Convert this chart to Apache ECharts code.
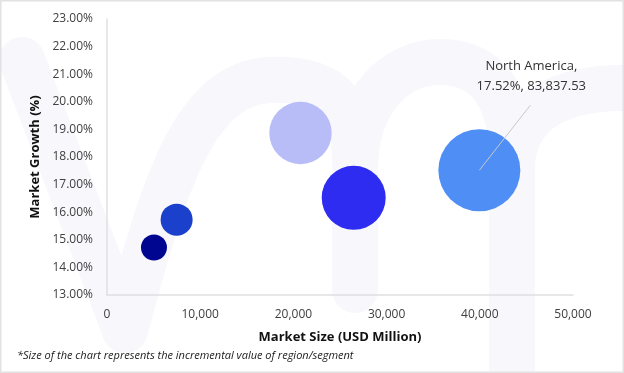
<!DOCTYPE html>
<html>
<head>
<meta charset="utf-8">
<script src="https://cdn.jsdelivr.net/npm/echarts@6/dist/echarts.min.js"></script>
<style>
  html, body { margin: 0; padding: 0; background: #ffffff; }
  #chart { width: 624px; height: 373px; }
</style>
</head>
<body>
<div id="chart"></div>
<script>
// ---- data ----
const regions = ['Segment 1', 'Segment 2', 'Segment 3', 'Segment 4', 'North America'];
const marketSize = [5040, 7470, 20760, 26470, 39950];          // USD Million (x)
const marketGrowth = [14.72, 15.73, 18.87, 16.52, 17.52];      // % (y)
const incrementalValue = [8430, 12770, 48550, 51070, 83837.53]; // bubble size
const bubbleColors = ['#00068f', '#1a40cc', '#b9bdf7', '#2e2cf0', '#4e8ef5'];
const labelledRegions = ['North America'];
const xTicks = { min: 0, max: 50000, interval: 10000 };
const yTicks = { min: 13, max: 23, interval: 1 };

const maxVal = Math.max(...incrementalValue);
const fmtNum = (v, d) => v.toLocaleString('en-US', { minimumFractionDigits: d, maximumFractionDigits: d });

const chart = echarts.init(document.getElementById('chart'), null, { renderer: 'canvas' });

const seriesData = regions.map((r, i) => ({
  name: r,
  value: [marketSize[i], marketGrowth[i], incrementalValue[i]],
  itemStyle: { color: bubbleColors[i], opacity: 1 },
  label: labelledRegions.includes(r) ? {
    show: true,
    position: 'inside',
    offset: [52, -94],
    align: 'center',
    fontFamily: 'Open Sans',
    fontSize: 13,
    lineHeight: 20,
    color: '#333333',
    formatter: (p) => `${p.name},\n${p.value[1].toFixed(2)}%, ${fmtNum(p.value[2], 2)}`
  } : { show: false }
}));

// faint background logo watermark (decorative)
const wmStyle = { stroke: '#f7f7fc', fill: 'none', lineWidth: 46, lineCap: 'round', lineJoin: 'round' };
const wmLine = (x1, y1, x2, y2) => ({ type: 'line', z: -10, silent: true, shape: { x1, y1, x2, y2 }, style: wmStyle });
const wmCurve = (x1, y1, cpx1, cpy1, cpx2, cpy2, x2, y2) => ({
  type: 'bezierCurve', z: -10, silent: true,
  shape: { x1, y1, cpx1, cpy1, cpx2, cpy2, x2, y2 }, style: wmStyle
});
const watermark = [
  wmLine(22, 60, 125, 330),
  wmCurve(125, 330, 160, 200, 190, 85, 268, 80),
  wmCurve(268, 80, 330, 76, 355, 105, 355, 160),
  wmLine(355, 160, 355, 290),
  wmCurve(355, 170, 355, 95, 400, 62, 440, 62),
  wmCurve(440, 62, 490, 62, 512, 100, 512, 160),
  wmLine(512, 160, 512, 400),
  wmCurve(512, 170, 512, 110, 560, 85, 640, 88)
];

const option = {
  backgroundColor: '#ffffff',
  animation: false,
  grid: { left: 107, right: 51, top: 19, bottom: 78 },
  xAxis: {
    type: 'value',
    min: xTicks.min, max: xTicks.max, interval: xTicks.interval,
    name: 'Market Size (USD Million)',
    nameLocation: 'middle',
    nameGap: 36,
    nameTextStyle: { fontFamily: 'Open Sans', fontSize: 13, fontWeight: 'bold', color: '#111111' },
    axisLine: { show: true, lineStyle: { color: '#e0e0e0', width: 1.5 } },
    axisTick: { show: false },
    splitLine: { show: false },
    axisLabel: {
      margin: 14,
      fontFamily: 'Open Sans', fontSize: 12, color: '#404040',
      formatter: (v) => fmtNum(v, 0)
    }
  },
  yAxis: {
    type: 'value',
    min: yTicks.min, max: yTicks.max, interval: yTicks.interval,
    name: 'Market Growth (%)',
    nameLocation: 'middle',
    nameGap: 59,
    nameTextStyle: { fontFamily: 'Open Sans', fontSize: 13, fontWeight: 'bold', color: '#111111' },
    axisLine: { show: true, lineStyle: { color: '#e0e0e0', width: 1.5 } },
    axisTick: { show: false },
    splitLine: { show: false },
    axisLabel: {
      margin: 14,
      fontFamily: 'Open Sans', fontSize: 12, color: '#404040',
      formatter: (v) => v.toFixed(2) + '%'
    }
  },
  series: [{
    type: 'scatter',
    data: seriesData,
    symbolSize: (val) => 82 * Math.sqrt(val[2] / maxVal),
    z: 3
  }],
  graphic: watermark.concat([
    {
      type: 'text', left: 17, top: 350,
      style: {
        text: '*Size of the chart represents the incremental value of region/segment',
        fontFamily: 'Open Sans', fontStyle: 'italic', fontSize: 11, fill: '#1a1a1a'
      }
    },
    {
      type: 'rect', shape: { x: 0.75, y: 0.75, width: 622.5, height: 371.5 },
      style: { fill: 'none', stroke: '#e2e2e2', lineWidth: 1.5 }, silent: true
    }
  ])
};
chart.setOption(option);

// leader line from the labelled bubble's centre to its label
const leaders = [];
regions.forEach((r, i) => {
  if (!labelledRegions.includes(r)) return;
  const p = chart.convertToPixel({ seriesIndex: 0 }, [marketSize[i], marketGrowth[i]]);
  leaders.push({
    type: 'line', z: 10, silent: true,
    shape: { x1: p[0], y1: p[1], x2: p[0] + 51, y2: p[1] - 65 },
    style: { stroke: '#c8c8d0', lineWidth: 1 }
  });
});
chart.setOption({ graphic: option.graphic.concat(leaders) });
</script>
</body>
</html>
